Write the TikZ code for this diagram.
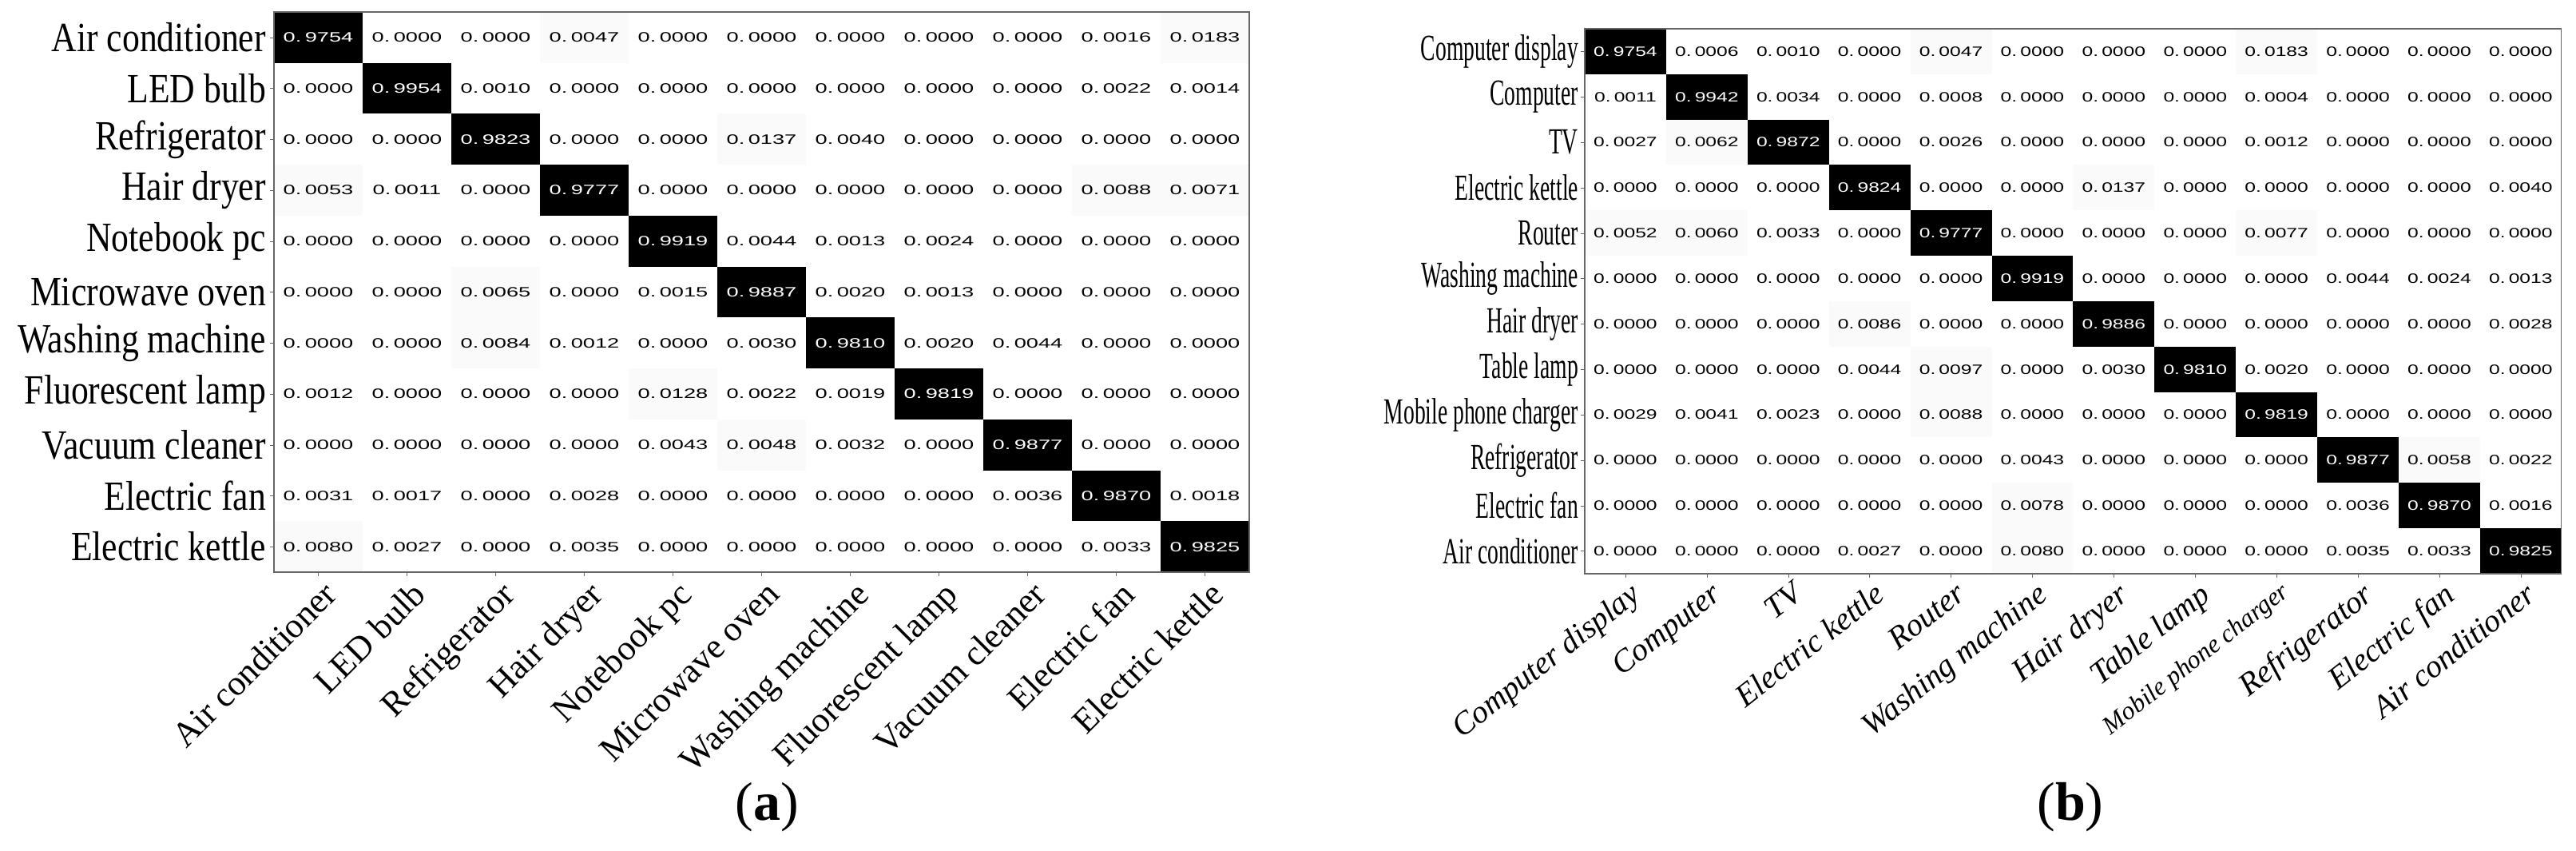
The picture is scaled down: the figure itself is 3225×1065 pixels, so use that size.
\documentclass[tikz,border=0pt]{standalone}
\usepackage{fontspec}
\setmainfont{Liberation Serif}
\newfontfamily\numfont{Liberation Sans}
\begin{document}
\begin{tikzpicture}[x=1pt,y=-1pt,
  numa/.style={font=\numfont\fontsize{17}{20}\selectfont, xscale=1.6, inner sep=0},
  numb/.style={font=\numfont\fontsize{17}{20}\selectfont, xscale=1.45, inner sep=0},
  rowlab/.style={anchor=east, inner sep=0, xscale=0.84, font=\fontsize{52}{56}\selectfont},
  rowlabb/.style={anchor=east, inner sep=0, xscale=0.6, font=\fontsize{46}{50}\selectfont},
  collab/.style={anchor=north east, rotate=45, inner sep=2pt, font=\fontsize{44}{48}\selectfont},
  collabb/.style={anchor=north east, rotate=38, inner sep=2pt, font=\itshape\fontsize{40}{44}\selectfont},
  frame/.style={draw=black!60, line width=1.2pt},
  caption/.style={font=\fontsize{68}{72}\selectfont}]
\useasboundingbox (0,0) rectangle (3225,1065);
% ---------- panel a
\def\ax{343}\def\ay{15}\def\aw{111}\def\ah{63.73}
\foreach \row [count=\r] in {
 {9754,0000,0000,0047,0000,0000,0000,0000,0000,0016,0183},
 {0000,9954,0010,0000,0000,0000,0000,0000,0000,0022,0014},
 {0000,0000,9823,0000,0000,0137,0040,0000,0000,0000,0000},
 {0053,0011,0000,9777,0000,0000,0000,0000,0000,0088,0071},
 {0000,0000,0000,0000,9919,0044,0013,0024,0000,0000,0000},
 {0000,0000,0065,0000,0015,9887,0020,0013,0000,0000,0000},
 {0000,0000,0084,0012,0000,0030,9810,0020,0044,0000,0000},
 {0012,0000,0000,0000,0128,0022,0019,9819,0000,0000,0000},
 {0000,0000,0000,0000,0043,0048,0032,0000,9877,0000,0000},
 {0031,0017,0000,0028,0000,0000,0000,0000,0036,9870,0018},
 {0080,0027,0000,0035,0000,0000,0000,0000,0000,0033,9825}} {
  \foreach \v [count=\c] in \row {
    \pgfmathsetmacro\xa{\ax+(\c-1)*\aw}
    \pgfmathsetmacro\ya{\ay+(\r-1)*\ah}
    \ifnum\r=\c
      \fill[black] (\xa,\ya) rectangle ++(\aw,\ah);
      \node[numa, text=white] (a-\r-\c) at (\xa+0.5*\aw,\ya+0.5*\ah) {0.\,\v};
    \else
      \ifnum\v>44 \fill[black!2] (\xa,\ya) rectangle ++(\aw,\ah); \fi
      \node[numa] (a-\r-\c) at (\xa+0.5*\aw,\ya+0.5*\ah) {0.\,\v};
    \fi
  }
}
\draw[frame] (\ax,\ay) rectangle ++(11*\aw,11*\ah);
\foreach \t [count=\i] in {Air conditioner,LED bulb,Refrigerator,Hair dryer,Notebook pc,Microwave oven,Washing machine,Fluorescent lamp,Vacuum cleaner,Electric fan,Electric kettle} {
  \pgfmathsetmacro\yc{\ay+(\i-0.5)*\ah}
  \pgfmathsetmacro\xc{\ax+(\i-0.5)*\aw}
  \draw[black!60] (\ax,\yc) -- ++(-5,0);
  \node[rowlab] (ra-\i) at (\ax-10,\yc) {\t};
  \draw[black!60] (\xc,\ay+11*\ah) -- ++(0,5);
  \node[collab] (ca-\i) at (\xc+4,\ay+11*\ah+6) {\t};
}
\node[caption] (capa) at (960,1010) {(\textbf{a})};
% ---------- panel b
\def\bx{1984}\def\by{36}\def\bw{101.9}\def\bh{56.83}
\foreach \row [count=\r] in {
 {9754,0006,0010,0000,0047,0000,0000,0000,0183,0000,0000,0000},
 {0011,9942,0034,0000,0008,0000,0000,0000,0004,0000,0000,0000},
 {0027,0062,9872,0000,0026,0000,0000,0000,0012,0000,0000,0000},
 {0000,0000,0000,9824,0000,0000,0137,0000,0000,0000,0000,0040},
 {0052,0060,0033,0000,9777,0000,0000,0000,0077,0000,0000,0000},
 {0000,0000,0000,0000,0000,9919,0000,0000,0000,0044,0024,0013},
 {0000,0000,0000,0086,0000,0000,9886,0000,0000,0000,0000,0028},
 {0000,0000,0000,0044,0097,0000,0030,9810,0020,0000,0000,0000},
 {0029,0041,0023,0000,0088,0000,0000,0000,9819,0000,0000,0000},
 {0000,0000,0000,0000,0000,0043,0000,0000,0000,9877,0058,0022},
 {0000,0000,0000,0000,0000,0078,0000,0000,0000,0036,9870,0016},
 {0000,0000,0000,0027,0000,0080,0000,0000,0000,0035,0033,9825}} {
  \foreach \v [count=\c] in \row {
    \pgfmathsetmacro\xa{\bx+(\c-1)*\bw}
    \pgfmathsetmacro\ya{\by+(\r-1)*\bh}
    \ifnum\r=\c
      \fill[black] (\xa,\ya) rectangle ++(\bw,\bh);
      \node[numb, text=white] (b-\r-\c) at (\xa+0.5*\bw,\ya+0.5*\bh) {0.\,\v};
    \else
      \ifnum\v>44 \fill[black!2] (\xa,\ya) rectangle ++(\bw,\bh); \fi
      \node[numb] (b-\r-\c) at (\xa+0.5*\bw,\ya+0.5*\bh) {0.\,\v};
    \fi
  }
}
\draw[frame] (\bx,\by) rectangle ++(12*\bw,12*\bh);
\foreach \t [count=\i] in {Computer display,Computer,TV,Electric kettle,Router,Washing machine,Hair dryer,Table lamp,Mobile phone charger,Refrigerator,Electric fan,Air conditioner} {
  \pgfmathsetmacro\yc{\by+(\i-0.5)*\bh}
  \draw[black!60] (\bx,\yc) -- ++(-5,0);
  \node[rowlabb] (rb-\i) at (\bx-8,\yc) {\t};
}
\foreach \t [count=\i] in {Computer display,Computer,TV,Electric kettle,Router,Washing machine,Hair dryer,Table lamp,{\fontsize{32}{36}\selectfont Mobile phone charger},Refrigerator,Electric fan,Air conditioner} {
  \pgfmathsetmacro\xc{\bx+(\i-0.5)*\bw}
  \draw[black!60] (\xc,\by+12*\bh) -- ++(0,5);
  \node[collabb] (cb-\i) at (\xc+4,\by+12*\bh+6) {\t};
}
\node[caption] (capb) at (2592,1010) {(\textbf{b})};
\end{tikzpicture}
\end{document}
